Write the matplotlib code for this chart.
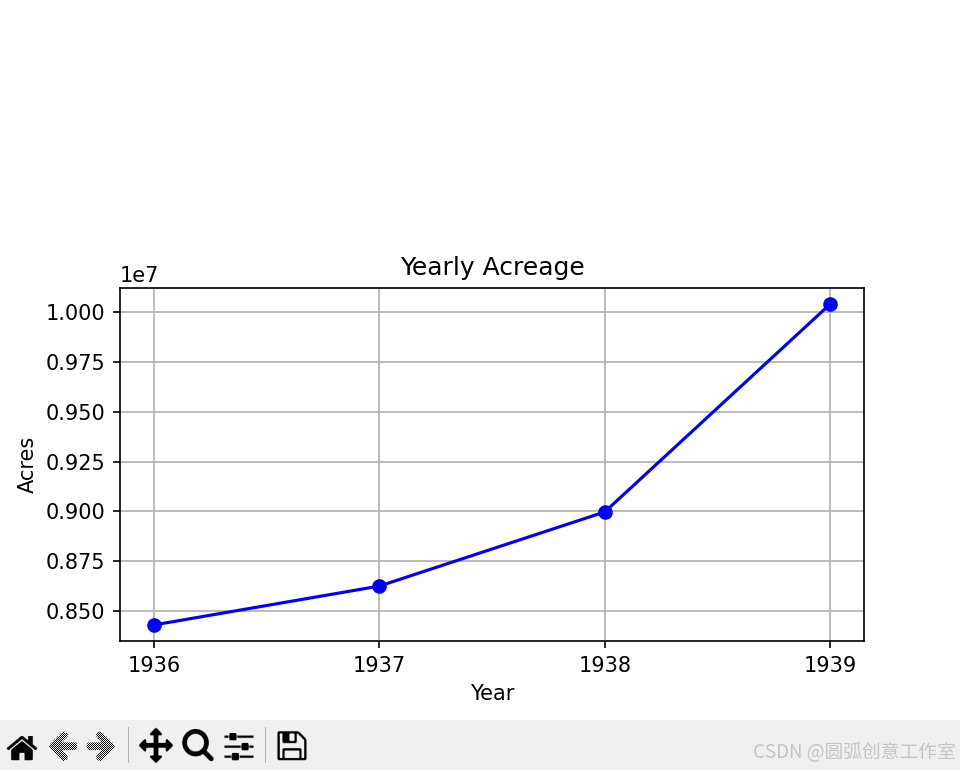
import os
import numpy as np
import matplotlib
matplotlib.use('Agg')
import matplotlib.pyplot as plt
from matplotlib.patches import Rectangle

years = [1936, 1937, 1938, 1939]
acres = [8430000, 8625000, 8997000, 10040000]
year_labels = ['1936', '1937', '1938', '1939']

W, H = 960, 770

fig = plt.figure(figsize=(W / 150, H / 150), dpi=150)
ax = fig.add_axes([120 / W, (H - 641) / H, 744 / W, 353 / H])
ax.plot(years, acres, color='blue', marker='o')
ax.set_xticks(years)
ax.set_xticklabels(year_labels)
ax.set_title('Yearly Acreage', pad=6.4)
ax.set_xlabel('Year')
ax.set_ylabel('Acres')
ax.grid(True)

# fake toolbar strip along the bottom, has to stay behind the icons
fig.add_artist(Rectangle((0, 0), 1, 50 / H, transform=fig.transFigure,
                         color='#f0f0f0', lw=0, zorder=-1))


def load_icon(name):
    path = os.path.join(matplotlib.get_data_path(), 'images', name + '_large.png')
    return plt.imread(path).copy()


def icon(name, cx, size=36):
    a = fig.add_axes([(cx - size / 2) / W, (H - 745 - size / 2) / H, size / W, size / H])
    a.imshow(load_icon(name), interpolation='antialiased')
    a.axis('off')


def disabled_icon(name, cx, size=36):
    # disabled buttons: resample to screen size, then checker the alpha pixel by pixel
    img = load_icon(name)
    idx = np.arange(size) * img.shape[0] // size
    img = img[idx][:, idx]
    yy, xx = np.indices(img.shape[:2])
    img[..., 3] = img[..., 3] * ((xx + yy) % 2 == 0)
    fig.figimage(img, xo=cx - size // 2, yo=H - 745 - size // 2, origin='upper', zorder=2)


icon('home', 22)
disabled_icon('back', 62)
disabled_icon('forward', 101)
icon('move', 156)
icon('zoom_to_rect', 198)
icon('subplots', 239)
icon('filesave', 292)

for x in [128, 265]:
    fig.add_artist(Rectangle((x / W, (H - 763) / H), 1 / W, 36 / H,
                             transform=fig.transFigure, color='#b4b4b4', lw=0))

fig.text(956 / W, (H - 752) / H, 'CSDN @圆弧创意工作室', ha='right', va='center',
         fontsize=9, color='#c4c4c4', family=['Noto Sans CJK SC', 'DejaVu Sans'])

fig.savefig('out.png', dpi=150)
